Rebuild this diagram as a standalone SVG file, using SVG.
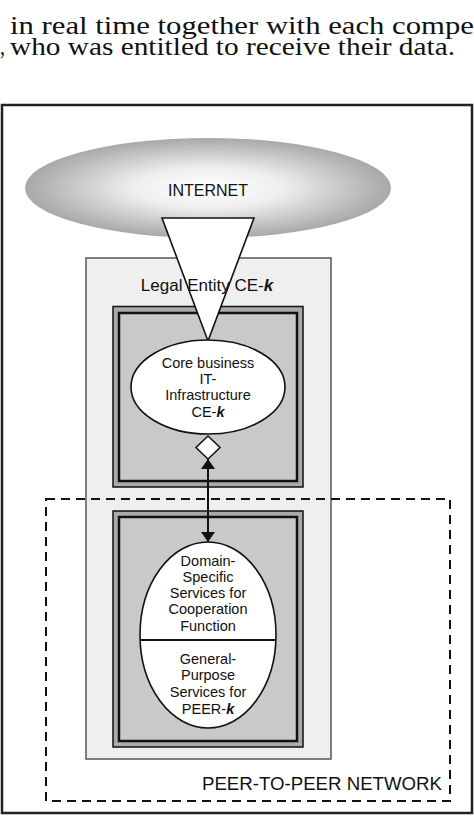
<svg xmlns="http://www.w3.org/2000/svg" width="474" height="816" viewBox="0 0 474 816">
<style>
.body{font-family:"Liberation Serif","Times New Roman",serif;font-size:25px;fill:#111}
.lbl{font-family:"Liberation Sans",Arial,sans-serif;fill:#111;text-anchor:middle}
.frameOut{fill:#a9a9a9;stroke:#111;stroke-width:1.5}
.frameIn{fill:#c9c9c9;stroke:#111;stroke-width:2.5}
.ell{fill:#fff;stroke:#111;stroke-width:1.6}
</style>
<defs>
<radialGradient id="g" cx="0.5" cy="0.5" r="0.5">
<stop offset="0" stop-color="#ffffff"/>
<stop offset="0.4" stop-color="#efefef"/>
<stop offset="1" stop-color="#a8a8a8"/>
</radialGradient>
<marker id="ah" viewBox="0 0 10 14" refX="10" refY="7" markerWidth="10" markerHeight="14" markerUnits="userSpaceOnUse" orient="auto-start-reverse">
<path d="M0,0 L10,7 L0,14 z" fill="#111"/>
</marker>
</defs>
<rect width="474" height="816" fill="#fff"/>
<g id="page-text">
<text class="body" x="10" y="34" textLength="464" lengthAdjust="spacingAndGlyphs">in real time together with each compe</text>
<text class="body" x="0" y="55" textLength="5" lengthAdjust="spacingAndGlyphs">,</text>
<text class="body" x="10" y="55" textLength="445" lengthAdjust="spacingAndGlyphs">who was entitled to receive their data.</text>
</g>
<rect x="2" y="105" width="470" height="708" fill="#fff" stroke="#222" stroke-width="2.5"/>
<g id="internet">
<ellipse cx="208" cy="188" rx="183" ry="50" fill="url(#g)"/>
<text class="lbl" x="208" y="196" font-size="17" textLength="80" lengthAdjust="spacingAndGlyphs">INTERNET</text>
</g>
<g id="legal-entity">
<rect x="86" y="258" width="245" height="501" fill="#efefef" stroke="#555" stroke-width="1.5"/>
</g>
<g id="core-it-frame">
<rect class="frameOut" x="113" y="306.5" width="190" height="180.5"/>
<rect class="frameIn" x="119" y="313" width="178" height="168"/>
</g>
<g id="services-frame">
<rect class="frameOut" x="113" y="511" width="190" height="236"/>
<rect class="frameIn" x="119" y="517" width="178" height="224"/>
</g>
<g id="connectors">
<polygon points="162,218 254,218 208,341" fill="#fff" stroke="#111" stroke-width="1.6" stroke-linejoin="miter"/>
</g>
<g id="legal-entity-label">
<text class="lbl" x="207" y="291" font-size="17">Legal Entity CE-<tspan font-weight="bold" font-style="italic">k</tspan></text>
</g>
<g id="core-it">
<ellipse class="ell" cx="208" cy="387" rx="77" ry="47"/>
<g font-size="14.5">
<text class="lbl" x="208" y="368">Core business</text>
<text class="lbl" x="208" y="384">IT-</text>
<text class="lbl" x="208" y="400">Infrastructure</text>
<text class="lbl" x="208" y="417">CE-<tspan font-weight="bold" font-style="italic">k</tspan></text>
</g>
</g>
<g id="services">
<ellipse class="ell" cx="208" cy="635" rx="68" ry="93"/>
<line x1="140" y1="640" x2="276" y2="640" stroke="#111" stroke-width="2"/>
<g font-size="14.5">
<text class="lbl" x="208" y="566">Domain-</text>
<text class="lbl" x="208" y="582">Specific</text>
<text class="lbl" x="208" y="598">Services for</text>
<text class="lbl" x="208" y="614">Cooperation</text>
<text class="lbl" x="208" y="631">Function</text>
<text class="lbl" x="208" y="664">General-</text>
<text class="lbl" x="208" y="680">Purpose</text>
<text class="lbl" x="208" y="697">Services for</text>
<text class="lbl" x="208" y="714">PEER-<tspan font-weight="bold" font-style="italic">k</tspan></text>
</g>
</g>
<g id="p2p-network">
<rect x="46" y="499" width="404" height="302" fill="none" stroke="#111" stroke-width="2" stroke-dasharray="9,6"/>
<text class="lbl" x="322" y="790" font-size="18" textLength="240" lengthAdjust="spacingAndGlyphs">PEER-TO-PEER NETWORK</text>
</g>
<g id="connectors-arrow">
<polygon points="208,436 220,447.5 208,459 196,447.5" fill="#fff" stroke="#111" stroke-width="1.5"/>
<line x1="208" y1="459" x2="208" y2="542" stroke="#111" stroke-width="2" marker-start="url(#ah)" marker-end="url(#ah)"/>
</g>
</svg>
